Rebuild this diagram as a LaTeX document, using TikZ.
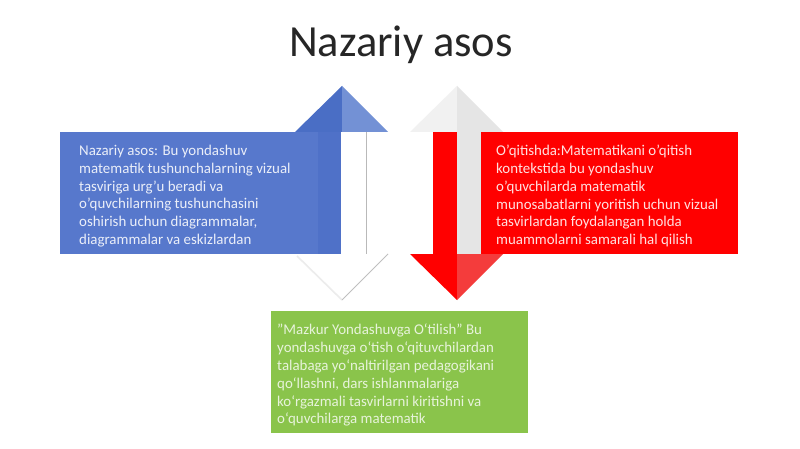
\documentclass[tikz,border=0pt]{standalone}
\usepackage{fontspec}
\setmainfont{Carlito}
\definecolor{bluepanel}{HTML}{5778CC}
\definecolor{bluedark}{HTML}{4F71C8}
\definecolor{bluehead}{HTML}{4A6EC5}
\definecolor{bluelight}{HTML}{7391D5}
\definecolor{redmain}{HTML}{FF0000}
\definecolor{redlight}{HTML}{F43C3C}
\definecolor{greypale}{HTML}{F1F1F1}
\definecolor{greymid}{HTML}{E5E5E5}
\definecolor{greenpanel}{HTML}{8AC44B}
\definecolor{titlegrey}{HTML}{262626}
\tikzset{
  panel/.style={anchor=north west, inner sep=0pt, outer sep=0pt, draw=none},
  boxtxt/.style={anchor=north west, inner sep=0pt, align=left,
    font=\fontsize{14.9}{17.8}\selectfont, text=white, text opacity=0.88},
}
\begin{document}
\begin{tikzpicture}[x=1pt,y=-1pt]
\useasboundingbox (0,0) rectangle (800,449);
\fill[white] (0,0) rectangle (800,449);

% title
\node[font=\fontsize{44.5}{52}\selectfont, text=titlegrey, inner sep=0pt] (title) at (401,45) {Nazariy asos};

% blue panel and up arrow
\node[panel, fill=bluepanel, minimum width=281pt, minimum height=122pt] (bluebox) at (60,132) {};
\fill[bluedark] (318,132) rectangle (341,254);
\fill[bluehead] (295,132) -- (342,86) -- (342,132) -- cycle;
\fill[bluelight] (342,86) -- (388,132) -- (342,132) -- cycle;
\draw[gray!55, line width=0.8pt] (366,132) -- (366,254);
% white chevron under the blue arrow
\fill[white] (295,254) -- (342,300) -- (388,254) -- cycle;
\draw[gray!15, line width=1.6pt] (297,256) -- (342,300);
\draw[gray!50, line width=0.8pt] (342,300) -- (388,254);

% grey triangle and red down arrow
\fill[greypale] (410,132) -- (457,86) -- (457,132) -- cycle;
\fill[greymid] (457,86) -- (503,132) -- (457,132) -- cycle;
\fill[redmain] (433,132) rectangle (457,254);
\fill[greymid] (457,132) rectangle (481,254);
\fill[redmain] (410,254) -- (457,254) -- (457,300) -- cycle;
\fill[redlight] (457,254) -- (503,254) -- (457,300) -- cycle;
\node[panel, fill=redmain, minimum width=257pt, minimum height=122pt] (redbox) at (481,132) {};

% green panel
\node[panel, fill=greenpanel, minimum width=257pt, minimum height=122pt] (greenbox) at (271,311) {};

% texts
\node[boxtxt] (bluetxt) at (79,145) {Nazariy asos: Bu yondashuv\\
matematik tushunchalarning vizual\\
tasviriga urg'u beradi va\\
o'quvchilarning tushunchasini\\
oshirish uchun diagrammalar,\\
diagrammalar va eskizlardan};

\node[boxtxt] (redtxt) at (496,145) {O'qitishda:Matematikani o'qitish\\
kontekstida bu yondashuv\\
o'quvchilarda matematik\\
munosabatlarni yoritish uchun vizual\\
tasvirlardan foydalangan holda\\
muammolarni samarali hal qilish};

\node[boxtxt, text opacity=0.8] (greentxt) at (277,324) {"Mazkur Yondashuvga O‘tilish" Bu\\
yondashuvga o‘tish o‘qituvchilardan\\
talabaga yo‘naltirilgan pedagogikani\\
qo‘llashni, dars ishlanmalariga\\
ko‘rgazmali tasvirlarni kiritishni va\\
o‘quvchilarga matematik};
\end{tikzpicture}
\end{document}
